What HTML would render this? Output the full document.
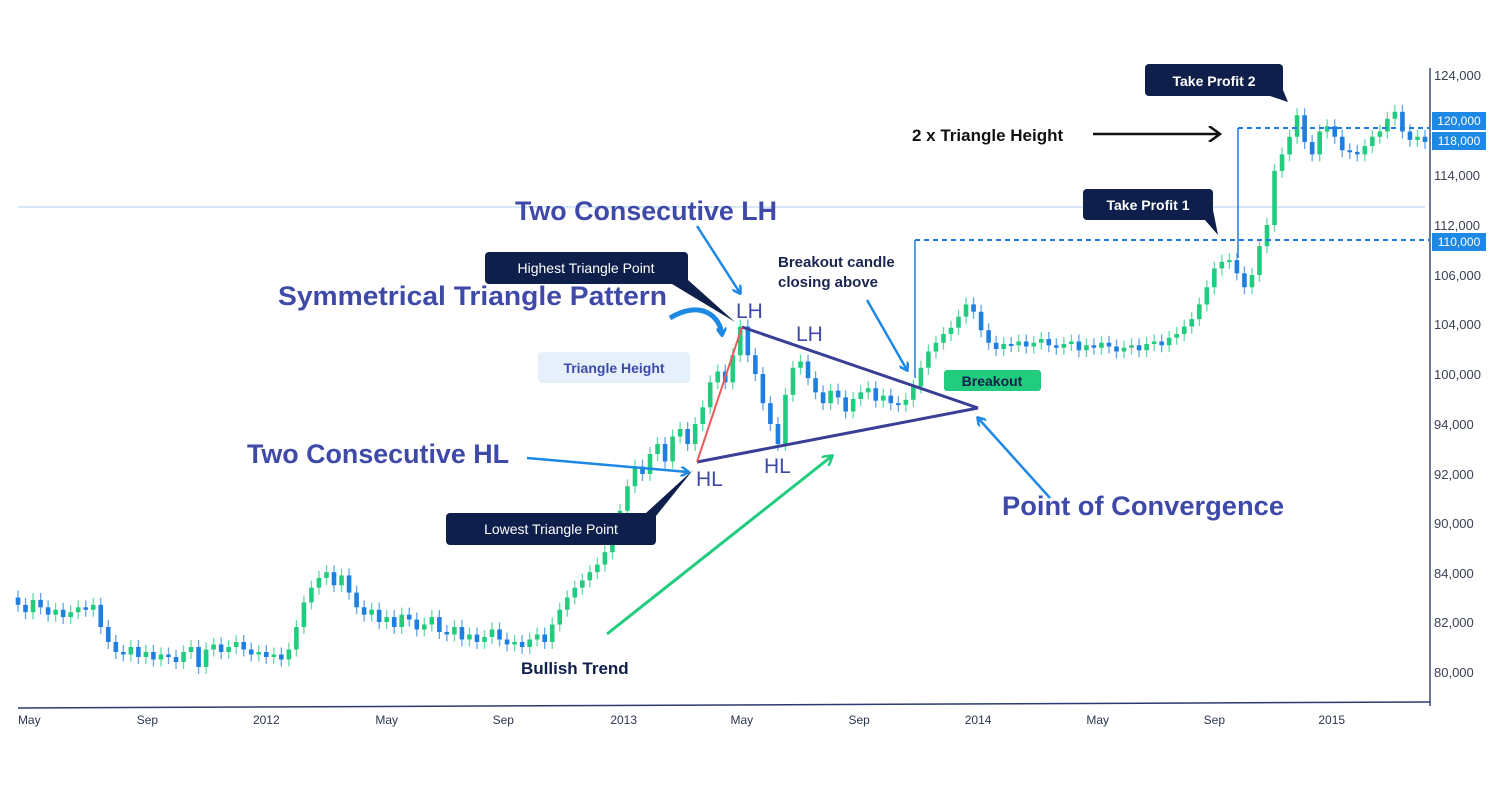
<!DOCTYPE html>
<html><head><meta charset="utf-8"><style>
html,body{margin:0;padding:0;background:#fff;}
svg{display:block;font-family:"Liberation Sans",sans-serif;}
</style></head><body>
<svg id="chart" width="1500" height="794" viewBox="0 0 1500 794">
<rect x="0" y="0" width="1500" height="794" fill="#fff"/>
<rect x="0" y="62" width="1500" height="668" fill="#fff"/>
<line x1="18" y1="207" x2="1425" y2="207" stroke="#d8e8f6" stroke-width="2"/>
<g id="candles"></g>
<g id="axes"></g>
</svg>
<script>
const tickValues=[124000,120000,118000,114000,112000,110000,106000,104000,100000,94000,92000,90000,84000,82000,80000];
const tickLabels=["124,000","120,000","118,000","114,000","112,000","110,000","106,000","104,000","100,000","94,000","92,000","90,000","84,000","82,000","80,000"];
const monthLabels=["May","Sep","2012","May","Sep","2013","May","Sep","2014","May","Sep","2015"];
const monthIndex=[1.5,17.2,33,49,64.5,80.5,96.2,111.8,127.6,143.5,159,174.6];
const closes=[82700,82400,82900,82600,82300,82500,82200,82400,82600,82500,82700,
81800,81200,80800,80700,81000,80600,80800,80500,80700,80600,80400,80800,81000,80200,
80900,81100,80800,81000,81200,80900,80700,80800,80600,80700,80500,80900,
81800,82800,83400,83800,84100,83500,83900,
83200,82600,82300,82500,82000,82200,81800,82300,82100,
81700,81900,82200,81600,81500,81800,81300,81500,81200,81400,81700,81300,81100,81200,81000,81300,81500,81200,
81900,82500,83000,83400,83700,84100,85000,86500,
89000,90500,91500,92300,92000,
92800,93200,92500,93500,93800,93200,94000,96000,
99000,100200,99000,101500,103800,
101500,100000,96500,94000,93200,
97500,100500,101000,99500,97800,
96500,98000,97200,95500,97000,97800,98300,96800,97400,96500,96300,96900,98500,
100500,101800,102500,103200,103700,104300,104800,104500,103500,102500,
102000,102400,102300,102600,102200,102500,102800,102300,102100,102400,102600,101900,102300,102100,102500,102200,101800,102100,102300,101900,102400,102600,102300,102900,103200,103800,104200,104800,
105500,106800,107600,107800,106200,105500,
106000,109500,112000,114500,116500,118500,120500,
118000,116500,119000,119500,118500,117000,116800,116500,117500,118500,119000,120200,120800,119000,118200,118500,118000];
const ns="http://www.w3.org/2000/svg";
const tickY=[75,121,142,175,225,242,275,324,374,424,474,523,573,622,672];
function yScale(v){
  for(let i=0;i<tickValues.length-1;i++){
    const a=tickValues[i],b=tickValues[i+1];
    if(v<=a&&v>=b){return tickY[i]+(a-v)/(a-b)*(tickY[i+1]-tickY[i]);}
  }
  if(v>tickValues[0])return tickY[0]-(v-tickValues[0])/4000*46;
  return tickY[tickY.length-1]+(tickValues[tickValues.length-1]-v)/2000*50;
}
function xScale(i){return 18+i*(1407/(closes.length-1));}
function mk(tag,attrs,parent){const e=document.createElementNS(ns,tag);for(const k in attrs)e.setAttribute(k,attrs[k]);parent.appendChild(e);return e;}
const cg=document.getElementById('candles');
for(let i=0;i<closes.length;i++){
  const o=i===0?closes[0]+300:closes[i-1],c=closes[i];
  const up=c>o,col=up?"#22cc7f":"#1f7fe0";
  const x=xScale(i),y1=yScale(Math.max(o,c)),y2=yScale(Math.min(o,c));
  const g=mk('g',{},cg);
  
  
  mk('line',{x1:x,x2:x,y1:y1-7,y2:y2+7,stroke:col,'stroke-width':1.3,opacity:0.7},g);
  mk('rect',{x:x-2.3,y:y1,width:4.6,height:Math.max(2,y2-y1),fill:col},g);
}
const ag=document.getElementById('axes');


mk('line',{x1:1430,y1:68,x2:1430,y2:706,stroke:"#3d4a7a",'stroke-width':1.5},ag);
mk('line',{x1:18,y1:708,x2:1430,y2:702,stroke:"#2c3a6e",'stroke-width':1.5},ag);
for(let i=0;i<tickValues.length;i++){
  const t=mk('text',{x:1434,y:yScale(tickValues[i])+5,'font-size':13,fill:"#3a4152"},ag);
  t.textContent=tickLabels[i];
  
  
}
for(let i=0;i<monthLabels.length;i++){
  const t=mk('text',{x:xScale(monthIndex[i]),y:724,'font-size':12,fill:"#2c3550",'text-anchor':"middle"},ag);
  t.textContent=monthLabels[i];
  
  
}
</script>
<svg width="0" height="0" style="position:absolute"><defs>
<marker id="ab" markerWidth="10" markerHeight="10" refX="8" refY="5" orient="auto" markerUnits="userSpaceOnUse"><path d="M1,0 L9,5 L1,10" fill="none" stroke="#1e88e5" stroke-width="2.5"/></marker>
<marker id="ag2" markerWidth="12" markerHeight="12" refX="10" refY="6" orient="auto" markerUnits="userSpaceOnUse"><path d="M1,0 L11,6 L1,12" fill="none" stroke="#22cc7f" stroke-width="2.5"/></marker>
<marker id="ak" markerWidth="14" markerHeight="16" refX="12" refY="8" orient="auto" markerUnits="userSpaceOnUse"><path d="M1,0 L12,8 L1,16" fill="none" stroke="#111" stroke-width="2.5"/></marker>
</defs></svg>
<svg width="1500" height="794" style="position:absolute;left:0;top:0" font-family="Liberation Sans, sans-serif">
<g>
<line x1="915" y1="240" x2="1430" y2="240" stroke="#1e7be0" stroke-width="2" stroke-dasharray="5,4"/>
<line x1="915" y1="240" x2="915" y2="378" stroke="#1e7be0" stroke-width="1.5"/>
<line x1="1238" y1="128" x2="1430" y2="128" stroke="#1e7be0" stroke-width="2" stroke-dasharray="5,4"/>
<line x1="1238" y1="128" x2="1238" y2="258" stroke="#1e7be0" stroke-width="1.5"/>
</g>
<g>
<rect x="1432" y="112" width="54" height="18" fill="#1e88e5"/><text x="1459" y="125" font-size="12" fill="#fff" text-anchor="middle">120,000</text>
<rect x="1432" y="132" width="54" height="18" fill="#1e88e5"/><text x="1459" y="145" font-size="12" fill="#fff" text-anchor="middle">118,000</text>
<rect x="1432" y="233" width="54" height="18" fill="#1e88e5"/><text x="1459" y="246" font-size="12" fill="#fff" text-anchor="middle">110,000</text>
</g>
<g>
<line x1="742" y1="327" x2="978" y2="408" stroke="#3a3f96" stroke-width="3"/>
<line x1="697" y1="462" x2="978" y2="408" stroke="#3a3f96" stroke-width="3"/>
<line x1="697" y1="462" x2="742" y2="327" stroke="#ef5a5a" stroke-width="2"/>
</g>
<g fill="#3f4aa8" font-size="21">
<text x="736" y="318">LH</text><text x="796" y="341">LH</text>
<text x="764" y="473">HL</text><text x="696" y="486">HL</text>
</g>
<g fill="#3f4aa8" font-weight="bold" font-size="27">
<text x="515" y="220" textLength="262" lengthAdjust="spacingAndGlyphs">Two Consecutive LH</text>
<text x="278" y="305" textLength="389" lengthAdjust="spacingAndGlyphs">Symmetrical Triangle Pattern</text>
<text x="247" y="463" textLength="262" lengthAdjust="spacingAndGlyphs">Two Consecutive HL</text>
<text x="1002" y="515" textLength="282" lengthAdjust="spacingAndGlyphs">Point of Convergence</text>
</g>
<g stroke="#1e88e5" stroke-width="2.5" fill="none">
<line x1="697" y1="226" x2="740" y2="293" marker-end="url(#ab)"/>
<line x1="527" y1="458" x2="688" y2="472" marker-end="url(#ab)"/>
<line x1="1050" y1="498" x2="978" y2="418" marker-end="url(#ab)"/>
<line x1="867" y1="300" x2="907" y2="370" marker-end="url(#ab)"/>
<line x1="990" y1="384" x2="944" y2="380"/>
<path d="M670,318 C700,300 720,315 722,335" stroke-width="5" marker-end="url(#ab)"/>
</g>
<line x1="607" y1="634" x2="832" y2="456" stroke="#22cc7f" stroke-width="3" marker-end="url(#ag2)"/>
<text x="521" y="674" font-size="17" font-weight="bold" fill="#0d1f4a">Bullish Trend</text>
<text x="778" y="267" font-size="15" font-weight="bold" fill="#1a2550"><tspan x="778">Breakout candle</tspan><tspan x="778" dy="20">closing above</tspan></text>
<g>
<text x="912" y="141" font-size="17" font-weight="bold" fill="#111">2 x Triangle Height</text>
<line x1="1093" y1="134" x2="1220" y2="134" stroke="#111" stroke-width="2.5" marker-end="url(#ak)"/>
</g>
<g>
<path d="M672,284 L735,322 L688,280 Z" fill="#0d1f4a"/>
<rect x="485" y="252" width="203" height="32" rx="4" fill="#0d1f4a"/>
<text x="586" y="273" font-size="14" fill="#fff" text-anchor="middle">Highest Triangle Point</text>
</g>
<g>
<path d="M646,513 L693,470 L656,516 Z" fill="#0d1f4a"/>
<rect x="446" y="513" width="210" height="32" rx="4" fill="#0d1f4a"/>
<text x="551" y="534" font-size="14" fill="#fff" text-anchor="middle">Lowest Triangle Point</text>
</g>
<g>
<path d="M1270,96 L1288,102 L1283,90 Z" fill="#0d1f4a"/>
<rect x="1145" y="64" width="138" height="32" rx="4" fill="#0d1f4a"/>
<text x="1214" y="86" font-size="14" font-weight="bold" fill="#fff" text-anchor="middle">Take Profit 2</text>
</g>
<g>
<path d="M1205,220 L1218,235 L1213,210 Z" fill="#0d1f4a"/>
<rect x="1083" y="189" width="130" height="31" rx="4" fill="#0d1f4a"/>
<text x="1148" y="210" font-size="14" font-weight="bold" fill="#fff" text-anchor="middle">Take Profit 1</text>
</g>
<g>
<rect x="538" y="352" width="152" height="31" rx="4" fill="#e6f0fb"/>
<text x="614" y="373" font-size="14" font-weight="bold" fill="#3f4aa8" text-anchor="middle">Triangle Height</text>
</g>
<g>
<rect x="944" y="370" width="97" height="21" rx="3" fill="#22cc7f"/>
<text x="992" y="386" font-size="14" font-weight="bold" fill="#0d1f4a" text-anchor="middle">Breakout</text>
</g>
</svg>
</body></html>
